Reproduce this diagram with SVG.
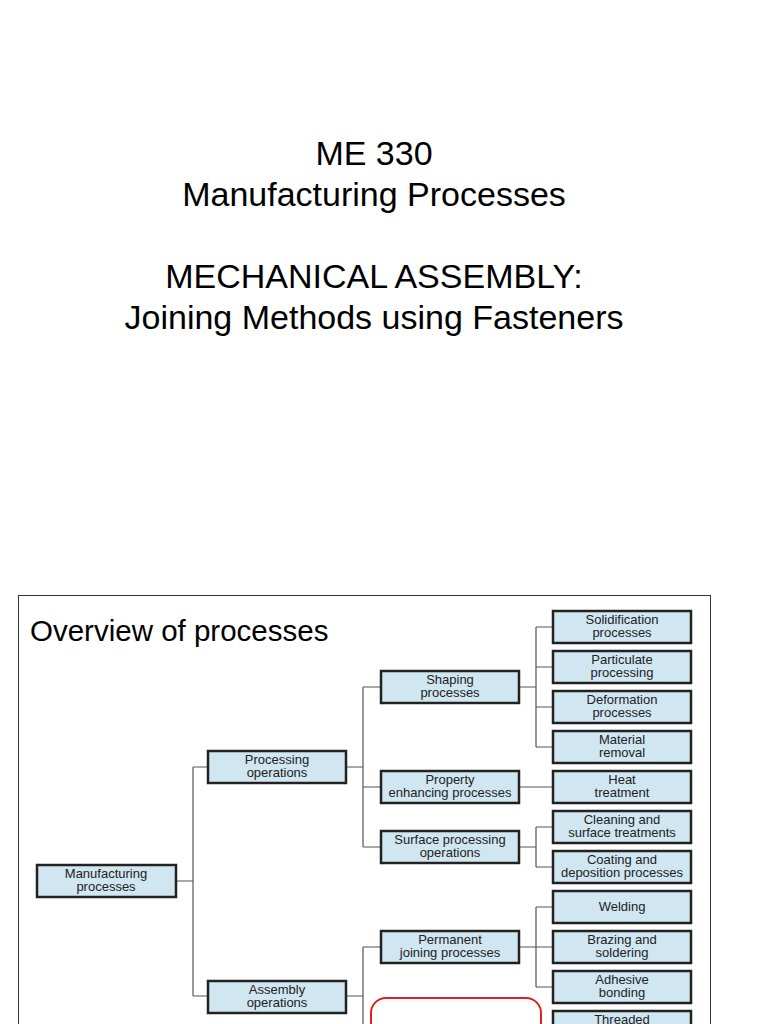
<svg xmlns="http://www.w3.org/2000/svg" width="768" height="1024" viewBox="0 0 768 1024">
<style>
.t{font-family:"Liberation Sans",Arial,sans-serif;font-size:34px;fill:#000;text-anchor:middle}
.b rect{fill:#d0e6f0;stroke:#222;stroke-width:2.5}
.b text{font-family:"Liberation Sans",Arial,sans-serif;font-size:13px;fill:#222;text-anchor:middle}
.c{fill:none;stroke:#555;stroke-width:1.2}
</style>
<rect width="768" height="1024" fill="#fff"/>
<g id="title">
<text class="t" x="374" y="165">ME 330</text>
<text class="t" x="374" y="206">Manufacturing Processes</text>
<text class="t" x="374" y="288">MECHANICAL ASSEMBLY:</text>
<text class="t" x="374" y="329">Joining Methods using Fasteners</text>
</g>
<rect x="18.5" y="595.5" width="692" height="440" fill="#fff" stroke="#333" stroke-width="1"/>
<text x="30" y="641" style="font-family:'Liberation Sans',Arial,sans-serif;font-size:29.5px">Overview of processes</text>
<g id="connectors" class="c">
<path d="M176 881H193M193 767V996M193 767H208M193 996H208"/>
<path d="M346 767H363M363 687V847M363 687H381M363 787H381M363 847H381"/>
<path d="M519 687H536M536 627V747M536 627H553M536 667H553M536 707H553M536 747H553"/>
<path d="M519 787H553"/>
<path d="M519 847H536M536 827V867M536 827H553M536 867H553"/>
<path d="M346 996H363M363 947V1024M363 947H381"/>
<path d="M519 947H536M536 907V987M536 907H553M536 947H553M536 987H553"/>
</g>
<g id="manufacturing" class="b"><rect x="37" y="865" width="139" height="32"/><text x="106" y="878">Manufacturing</text><text x="106" y="891">processes</text></g>
<g id="processing" class="b"><rect x="208" y="751" width="138" height="32"/><text x="277" y="764">Processing</text><text x="277" y="777">operations</text></g>
<g id="assembly" class="b"><rect x="208" y="981" width="138" height="32"/><text x="277" y="994">Assembly</text><text x="277" y="1007">operations</text></g>
<g id="shaping" class="b"><rect x="381" y="671" width="138" height="32"/><text x="450" y="684">Shaping</text><text x="450" y="697">processes</text></g>
<g id="property" class="b"><rect x="381" y="771" width="138" height="32"/><text x="450" y="784">Property</text><text x="450" y="797">enhancing processes</text></g>
<g id="surface" class="b"><rect x="381" y="831" width="138" height="32"/><text x="450" y="844">Surface processing</text><text x="450" y="857">operations</text></g>
<g id="permanent" class="b"><rect x="381" y="931" width="138" height="32"/><text x="450" y="944">Permanent</text><text x="450" y="957">joining processes</text></g>
<g id="solidification" class="b"><rect x="553" y="611" width="138" height="32"/><text x="622" y="624">Solidification</text><text x="622" y="637">processes</text></g>
<g id="particulate" class="b"><rect x="553" y="651" width="138" height="32"/><text x="622" y="664">Particulate</text><text x="622" y="677">processing</text></g>
<g id="deformation" class="b"><rect x="553" y="691" width="138" height="32"/><text x="622" y="704">Deformation</text><text x="622" y="717">processes</text></g>
<g id="material" class="b"><rect x="553" y="731" width="138" height="32"/><text x="622" y="744">Material</text><text x="622" y="757">removal</text></g>
<g id="heat" class="b"><rect x="553" y="771" width="138" height="32"/><text x="622" y="784">Heat</text><text x="622" y="797">treatment</text></g>
<g id="cleaning" class="b"><rect x="553" y="811" width="138" height="32"/><text x="622" y="824">Cleaning and</text><text x="622" y="837">surface treatments</text></g>
<g id="coating" class="b"><rect x="553" y="851" width="138" height="32"/><text x="622" y="864">Coating and</text><text x="622" y="877">deposition processes</text></g>
<g id="welding" class="b"><rect x="553" y="891" width="138" height="32"/><text x="622" y="911">Welding</text></g>
<g id="brazing" class="b"><rect x="553" y="931" width="138" height="32"/><text x="622" y="944">Brazing and</text><text x="622" y="957">soldering</text></g>
<g id="adhesive" class="b"><rect x="553" y="971" width="138" height="32"/><text x="622" y="984">Adhesive</text><text x="622" y="997">bonding</text></g>
<g id="threaded" class="b"><rect x="553" y="1011" width="138" height="32"/><text x="622" y="1024">Threaded</text></g>
<rect id="highlight" x="371" y="998" width="170" height="60" rx="15" fill="none" stroke="#e02020" stroke-width="2"/>
</svg>
